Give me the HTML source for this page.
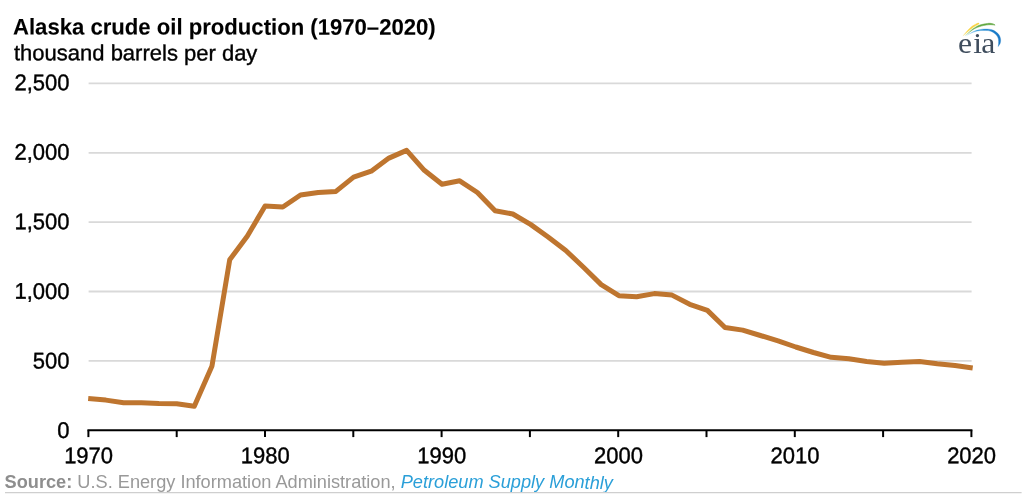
<!DOCTYPE html>
<html lang="en">
<head>
<meta charset="utf-8">
<title>Alaska crude oil production (1970–2020)</title>
<style>
html,body{margin:0;padding:0;background:#fff;}
body{width:1035px;height:500px;overflow:hidden;position:relative;font-family:"Liberation Sans",Arial,Helvetica,sans-serif;}
svg{position:absolute;left:0;top:0;display:block;}
.t{font-family:"Liberation Sans",Arial,Helvetica,sans-serif;font-size:22px;fill:#000;stroke:#000;stroke-width:0.38px;}
.title{font-family:"Liberation Sans",Arial,Helvetica,sans-serif;font-size:22px;font-weight:bold;fill:#000;stroke:#000;stroke-width:0.1px;}
.src{font-family:"Liberation Sans",Arial,Helvetica,sans-serif;font-size:18.2px;fill:#999;}
.src .b{font-weight:bold;fill:#8e8e8e;}
.src .i{font-style:italic;fill:#2a9fd8;}
.logo{font-family:"Liberation Serif","DejaVu Serif",serif;font-size:28.8px;fill:#3f4d5d;}
</style>
</head>
<body>
<svg width="1035" height="500" viewBox="0 0 1035 500" style="will-change:transform">
<!-- gridlines -->
<line x1="88.6" x2="971.6" y1="360.9" y2="360.9" stroke="#d9d9d9" stroke-width="1.8"/>
<line x1="88.6" x2="971.6" y1="291.5" y2="291.5" stroke="#d9d9d9" stroke-width="1.8"/>
<line x1="88.6" x2="971.6" y1="222.2" y2="222.2" stroke="#d9d9d9" stroke-width="1.8"/>
<line x1="88.6" x2="971.6" y1="152.8" y2="152.8" stroke="#d9d9d9" stroke-width="1.8"/>
<line x1="88.6" x2="971.6" y1="83.4" y2="83.4" stroke="#d9d9d9" stroke-width="1.8"/>

<!-- data line -->
<polyline fill="none" stroke="#be752f" stroke-width="5" stroke-miterlimit="3" stroke-linejoin="round" stroke-linecap="butt" points="88.2,398.5 105.9,400.1 123.6,402.7 141.3,402.8 159.0,403.5 176.7,403.8 194.3,406.3 212.0,365.9 229.7,259.8 247.4,235.9 265.1,205.9 282.8,207.0 300.5,195.0 318.2,192.5 335.9,191.4 353.6,177.1 371.2,171.2 388.9,158.1 406.6,150.4 424.3,170.3 442.0,184.3 459.7,180.8 477.4,192.5 495.1,210.8 512.8,214.0 530.5,224.4 548.1,237.0 565.8,250.5 583.5,267.3 601.2,284.6 618.9,295.7 636.6,296.7 654.3,293.6 672.0,295.1 689.7,304.3 707.4,310.4 725.0,327.5 742.7,330.1 760.4,335.5 778.1,340.8 795.8,347.0 813.5,352.5 831.2,357.3 848.9,358.8 866.6,361.5 884.2,363.3 901.9,362.3 919.6,361.6 937.3,363.8 955.0,365.6 972.7,368.1"/>
<!-- axis -->
<line x1="87.4" x2="972.4" y1="430.3" y2="430.3" stroke="#000" stroke-width="2"/>
<line x1="88.4" x2="88.4" y1="430.3" y2="437.1" stroke="#000" stroke-width="2"/>
<line x1="176.7" x2="176.7" y1="430.3" y2="437.1" stroke="#000" stroke-width="2"/>
<line x1="265.0" x2="265.0" y1="430.3" y2="437.1" stroke="#000" stroke-width="2"/>
<line x1="353.3" x2="353.3" y1="430.3" y2="437.1" stroke="#000" stroke-width="2"/>
<line x1="441.6" x2="441.6" y1="430.3" y2="437.1" stroke="#000" stroke-width="2"/>
<line x1="529.9" x2="529.9" y1="430.3" y2="437.1" stroke="#000" stroke-width="2"/>
<line x1="618.2" x2="618.2" y1="430.3" y2="437.1" stroke="#000" stroke-width="2"/>
<line x1="706.5" x2="706.5" y1="430.3" y2="437.1" stroke="#000" stroke-width="2"/>
<line x1="794.8" x2="794.8" y1="430.3" y2="437.1" stroke="#000" stroke-width="2"/>
<line x1="883.1" x2="883.1" y1="430.3" y2="437.1" stroke="#000" stroke-width="2"/>
<line x1="971.4" x2="971.4" y1="430.3" y2="437.1" stroke="#000" stroke-width="2"/>

<!-- labels -->
<text transform="translate(69.5,438.0) rotate(0.03) scale(1,1.035)" text-anchor="end" class="t">0</text>
<text transform="translate(69.5,368.4) rotate(0.03) scale(1,1.035)" text-anchor="end" class="t">500</text>
<text transform="translate(69.5,298.9) rotate(0.03) scale(1,1.035)" text-anchor="end" class="t">1,000</text>
<text transform="translate(69.5,229.3) rotate(0.03) scale(1,1.035)" text-anchor="end" class="t">1,500</text>
<text transform="translate(69.5,159.8) rotate(0.03) scale(1,1.035)" text-anchor="end" class="t">2,000</text>
<text transform="translate(69.5,90.2) rotate(0.03) scale(1,1.035)" text-anchor="end" class="t">2,500</text>

<text transform="translate(88.6,463.3) rotate(0.03) scale(1.0,1.035)" text-anchor="middle" class="t">1970</text>
<text transform="translate(265.2,463.3) rotate(0.03) scale(1.0,1.035)" text-anchor="middle" class="t">1980</text>
<text transform="translate(441.8,463.3) rotate(0.03) scale(1.0,1.035)" text-anchor="middle" class="t">1990</text>
<text transform="translate(618.4,463.3) rotate(0.03) scale(1.0,1.035)" text-anchor="middle" class="t">2000</text>
<text transform="translate(795.0,463.3) rotate(0.03) scale(1.0,1.035)" text-anchor="middle" class="t">2010</text>
<text transform="translate(971.6,463.3) rotate(0.03) scale(1.0,1.035)" text-anchor="middle" class="t">2020</text>

<text transform="translate(13,34.5) rotate(0.03) scale(1.006,1.03)" class="title">Alaska crude oil production (1970–2020)</text>
<text transform="translate(14,60.3) rotate(0.03) scale(1,1.0)" class="t">thousand barrels per day</text>
<!-- source -->
<text transform="translate(4.6,488.3) rotate(0.02) scale(1,1.04)" class="src"><tspan class="b">Source:</tspan> U.S. Energy Information Administration, <tspan class="i">Petroleum Supply Monthly</tspan></text>
<line x1="5" x2="1021.6" y1="492.6" y2="492.6" stroke="#cfcfcf" stroke-width="1.2"/>
<!-- eia logo -->
<defs>
<linearGradient id="gy" gradientUnits="userSpaceOnUse" x1="962.9" y1="35.9" x2="978.8" y2="23">
<stop offset="0" stop-color="#f8d04a" stop-opacity="0.25"/><stop offset="0.35" stop-color="#f9d440" stop-opacity="1"/><stop offset="1" stop-color="#f8d038"/>
</linearGradient>
<linearGradient id="gg" gradientUnits="userSpaceOnUse" x1="964.8" y1="35.6" x2="995" y2="24">
<stop offset="0" stop-color="#7fbf5a" stop-opacity="0.2"/><stop offset="0.3" stop-color="#66ad45" stop-opacity="1"/><stop offset="1" stop-color="#5aa23a"/>
</linearGradient>
<linearGradient id="gb" gradientUnits="userSpaceOnUse" x1="966.4" y1="35.6" x2="1000" y2="36">
<stop offset="0" stop-color="#8ccaf0" stop-opacity="0.25"/><stop offset="0.3" stop-color="#3d9fdc" stop-opacity="1"/><stop offset="0.75" stop-color="#1b7fcb"/><stop offset="1" stop-color="#1878c6"/>
</linearGradient>
</defs>
<g>
<path d="M962.88,36.04 C963.25,35.57 964.32,34.17 965.12,33.23 C965.92,32.29 966.82,31.30 967.68,30.41 C968.53,29.53 969.38,28.67 970.24,27.92 C971.09,27.16 971.94,26.46 972.80,25.87 C973.65,25.28 974.55,24.81 975.35,24.40 C976.15,23.98 977.03,23.59 977.59,23.37 C978.16,23.16 978.55,23.16 978.75,23.12 L979.00,23.76 C978.71,23.93 977.88,24.44 977.27,24.78 C976.67,25.12 976.10,25.37 975.35,25.81 C974.61,26.24 973.65,26.81 972.80,27.40 C971.94,28.00 971.09,28.68 970.24,29.39 C969.38,30.09 968.53,30.86 967.68,31.63 C966.82,32.39 965.92,33.26 965.12,33.99 C964.32,34.73 963.25,35.70 962.88,36.04 Z" fill="url(#gy)" stroke="url(#gy)" stroke-width="0.55" stroke-linejoin="round"/>
<path d="M964.80,35.72 C965.06,35.51 965.60,35.12 966.40,34.44 C967.20,33.76 968.53,32.55 969.60,31.63 C970.66,30.70 971.73,29.67 972.80,28.88 C973.86,28.09 974.93,27.49 975.99,26.89 C977.06,26.30 977.91,25.76 979.19,25.29 C980.47,24.82 982.29,24.39 983.67,24.08 C985.06,23.77 986.44,23.57 987.51,23.44 C988.58,23.31 989.11,23.24 990.07,23.31 C991.03,23.38 992.44,23.61 993.27,23.89 C994.10,24.16 994.76,24.79 995.06,24.97 L995.06,25.17 C994.55,25.10 993.03,24.85 991.99,24.78 C990.94,24.72 990.18,24.66 988.79,24.78 C987.40,24.90 985.27,25.15 983.67,25.49 C982.07,25.82 980.47,26.35 979.19,26.76 C977.91,27.18 977.06,27.49 975.99,27.98 C974.93,28.47 973.86,28.99 972.80,29.71 C971.73,30.42 970.66,31.41 969.60,32.27 C968.53,33.12 967.20,34.25 966.40,34.83 C965.60,35.40 965.06,35.57 964.80,35.72 Z" fill="url(#gg)" stroke="url(#gg)" stroke-width="0.5" stroke-linejoin="round"/>
<path d="M966.40,35.72 C966.93,35.36 968.53,34.21 969.60,33.55 C970.66,32.89 971.73,32.26 972.80,31.76 C973.86,31.25 974.93,30.88 975.99,30.54 C977.06,30.20 978.13,29.93 979.19,29.71 C980.26,29.48 981.33,29.30 982.39,29.20 C983.46,29.09 984.52,29.07 985.59,29.07 C986.66,29.07 987.72,29.07 988.79,29.20 C989.86,29.32 990.92,29.49 991.99,29.84 C993.06,30.18 994.23,30.66 995.19,31.24 C996.15,31.83 997.00,32.55 997.75,33.35 C998.49,34.15 999.19,34.98 999.67,36.04 C1000.15,37.11 1000.54,38.55 1000.63,39.75 C1000.71,40.96 1000.57,42.15 1000.18,43.27 C999.78,44.39 998.58,45.94 998.26,46.47 L998.26,46.47 C998.31,45.99 998.54,44.71 998.58,43.59 C998.62,42.47 998.69,40.87 998.51,39.75 C998.34,38.63 997.99,37.75 997.55,36.87 C997.12,36.00 996.61,35.24 995.89,34.51 C995.18,33.77 994.13,33.01 993.27,32.46 C992.40,31.90 991.56,31.49 990.71,31.18 C989.86,30.87 989.00,30.73 988.15,30.60 C987.30,30.48 986.55,30.44 985.59,30.41 C984.63,30.38 983.46,30.37 982.39,30.41 C981.33,30.45 980.26,30.52 979.19,30.67 C978.13,30.82 977.06,31.01 975.99,31.31 C974.93,31.61 973.86,32.01 972.80,32.46 C971.73,32.91 970.66,33.45 969.60,33.99 C968.53,34.54 966.93,35.43 966.40,35.72 Z" fill="url(#gb)" stroke="url(#gb)" stroke-width="0.35" stroke-linejoin="round"/>
<text transform="translate(958.2,53.0) scale(1.1,1)" x="-0.2 13.7 20.97" class="logo">eia</text>
</g>
</svg>
</body>
</html>
